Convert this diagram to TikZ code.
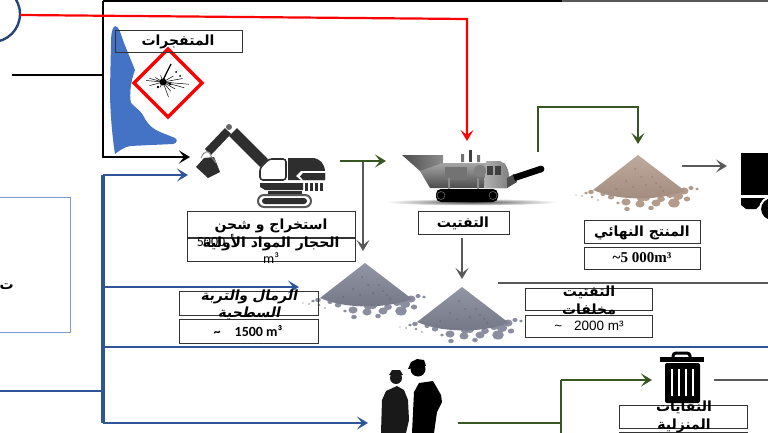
\documentclass[tikz,border=0pt]{standalone}
\usepackage{fontspec}
\usetikzlibrary{arrows.meta}
\TeXXeTstate=1
\newfontfamily\arabicfont[Script=Arabic]{DejaVu Sans}
\newfontfamily\arabicslant[Script=Arabic, FakeSlant=0.2]{DejaVu Sans Bold}
\newfontfamily\calibfont{Carlito}
\newfontfamily\timesfont{Liberation Serif}
\newfontfamily\arialfont{Liberation Sans}
\newcommand{\ar}[1]{\beginR #1\endR}
\definecolor{flowblue}{HTML}{2F5597}
\definecolor{flowgreen}{HTML}{375623}
\definecolor{flowgray}{HTML}{595959}
\definecolor{boxblue}{HTML}{7F9BCB}
\definecolor{oilblue}{HTML}{4472C4}
\definecolor{pilebrown}{HTML}{B39A8C}
\definecolor{rockbrown}{HTML}{B49C8D}
\definecolor{pilegray}{HTML}{7F8394}
\definecolor{rockgray}{HTML}{8B8E9E}
\definecolor{darkmach}{HTML}{2E2E2E}
\tikzset{
  box/.style={draw=black!80, line width=.9, inner sep=0},
  artext/.style={font=\arabicfont\bfseries\fontsize{14}{17.5}\selectfont, align=center, inner sep=0},
  numtext/.style={align=center, inner sep=0},
  tip/.style={-{Stealth[length=11, width=13, inset=5]}},
  redflow/.style={draw=red, line width=2.2, tip},
  blackflow/.style={draw=black, line width=2.2, tip},
  blueflow/.style={draw=flowblue, line width=2.2, tip},
  greenflow/.style={draw=flowgreen, line width=2.2, tip},
  grayflow/.style={draw=flowgray, line width=1.8, tip},
}
\begin{document}
\begin{tikzpicture}[x=1pt, y=-1pt]
  \useasboundingbox (0,0) rectangle (768,433);

  % connector ends
  \foreach \n/\x/\y in {redstart/20/15, redbend/467/19, redend/467/141,
      topleft/103/1, topmid/562/1, topright/768/1, blackfall/103/157, blackend/190/157,
      leftblack/12/75, midblack/103/75,
      bluetop/103/175, blueone/188/175, bluemid/103/287, bluetwo/299/287,
      bluewide/103/347, blueedge/768/347, blueleft/0/391, bluejoin/103/391,
      bluelow/103/423, bluethree/368/423,
      digout/340/161, digend/386/161, digdrop/363/161, digpile/363/251,
      crushup/538/152, crushleft/538/107, crushright/638/107, crushend/638/144,
      crushdown/462/238, crushpile/462/279, prodout/682/166, prodend/727/166,
      rule/498/283, ruleedge/768/283,
      staffout/458/423, staffjoin/561/423, stafflow/561/433, staffup/561/380, staffend/652/380,
      binout/714/380, binedge/768/380} {
    \coordinate (\n) at (\x,\y);
  }

  % left frame
  \draw[boxblue, line width=1] (-3,197) rectangle (70,332);
  \node[artext, anchor=west] (cutword) at (-.5,287) {\ar{ت}};
  \draw[flowblue!80!black, line width=2.4] (-8,14) circle (28);

  % explosives
  \fill[oilblue] (115,26) .. controls (119,26) and (121,35) .. (124,43) -- (135,70)
    .. controls (131,80) and (129,95) .. (131,103) .. controls (137,109) and (142,112) .. (144,117)
    .. controls (148,125) and (153,129) .. (160,132) -- (175,138) .. controls (178,140) and (177,143) .. (173,144)
    -- (130,146) .. controls (125,147) and (120,150) .. (115,154)
    .. controls (112,135) and (110,110) .. (110,90) -- (111,43) .. controls (111,35) and (112,27) .. (115,26) -- cycle;
  \draw[red, line width=3.2, fill=white, line join=miter] (168,49) -- (202,83) -- (168,117) -- (134,83) -- cycle;
  \fill[black] (163,82) circle (3.5);
  \foreach \a/\l in {5/26, 15/22, 30/14, 50/12, 70/16, 120/6, 165/14, 185/17, 195/14, 210/9, 250/7, 290/8, 330/12, 350/20} {
    \draw[black, line width=.5] (163,82) -- ++(\a:\l);
  }
  \draw[black, line width=1.2] (163,80) -- (171,64);
  \fill[black] (170,84) circle (1.5) (176,72) circle (1) (180,76) circle (1) (158,87) circle (1.3);

  % excavator
  \fill[darkmach] (196,167) -- (208,178) -- (220,172) -- (214,157) -- (204,158) -- cycle;
  \draw[darkmach, line width=8.5] (208,152) -- (228,131);
  \draw[darkmach, line width=11] (233,132) -- (264,163);
  \draw[black!45, line width=1] (201,158) .. controls (204,150) and (210,150) .. (211,156) -- (216,163);
  \fill[black!60] (229,127) circle (3);
  \fill[darkmach] (288,158) -- (312,158) .. controls (320,158) and (325,164) .. (325,172) -- (325,180) -- (288,180) -- cycle;
  \fill[white] (325,171) -- (301,171) -- (296,176) -- (301,180) -- (325,180) -- cycle;
  \fill[darkmach] (303,173) -- (325,173) -- (325,180) -- (303,180) -- (300,176.5) -- cycle;
  \draw[darkmach, line width=1.6, fill=white, rounded corners=3] (260,180) -- (260,168) -- (269,159) -- (286,159) -- (286,180) -- cycle;
  \fill[darkmach] (260,183) -- (303,183) -- (303,190) -- (265,190) -- (260,187) -- cycle;
  \foreach \x in {305,310,315,320} {
    \fill[darkmach] (\x,183) rectangle +(3,8);
  }
  \fill[darkmach] (268,191) rectangle (302,194);
  \draw[darkmach!80, line width=2, rounded corners=6] (258,195) rectangle (311,207);
  \fill[darkmach, rounded corners=3] (262,198) rectangle (307,204);

  % crusher
  \shade[inner color=black!70, outer color=white] (472,202) ellipse (86 and 3.5);
  \shade[left color=black!70, right color=black!45] (402,155) -- (443,155) -- (443,170) -- (420,171) -- cycle;
  \shade[top color=black!35, bottom color=black!70] (420,171) -- (443,163) -- (505,163) -- (509,175) -- (507,188) -- (430,188) -- cycle;
  \shade[left color=black!30, right color=black!50] (486,161) -- (500,161) .. controls (506,163) and (509,170) .. (509,178) -- (507,188) -- (484,188) -- cycle;
  \fill[black!55] (445,167) rectangle (467,180);
  \fill[black!50] (480,171) circle (6);
  \foreach \x in {487,495} {
    \fill[black!75] (\x,166) rectangle +(6,9);
  }
  \fill[black!55] (461,154) rectangle (464,162) (477,155) rectangle (480,162);
  \fill[black!75] (469,150) rectangle (472,162);
  \fill[black!45] (448,178) rectangle (450,193) (477,178) rectangle (479,193);
  \fill[black, rounded corners=5] (436,189) rectangle (498,202);
  \foreach \x in {441,493} {
    \draw[black!60, line width=.6] (\x,195.5) circle (4);
  }
  \fill[black!70] (507,178) -- (514,174) -- (517,182) -- (507,188) -- cycle;
  \draw[black, line width=6.5] (514,178) -- (541,169);
  \fill[black] (541,169) circle (3.4);

  % piles
  \foreach \cx/\cy/\cpile/\crock in {638/155/pilebrown/rockbrown, 365/263/pilegray/rockgray, 462/287/pilegray/rockgray} {
    \begin{scope}[shift={(\cx,\cy)}]
      \foreach \rx/\ry/\rs in {-62/40/.6, -56/41/.8, -52/38/1.5, -47/37/2.2, -46/42/1.2, -40/45/.8,
          -35/39/2, -27/42/2.5, -20/48/1.5, -12/47/3.5, -11/54/2.2, 2/49/3.5, 3/44/3, 13/53/2.2, 18/48/3.5,
          23/44/3, 36/48/4.5, 40/41/4, 46/36/3.5, 49/44/2.5, 53/33/2, 59/34/1.5, 32/40/3, 8/43/3} {
        \fill[\crock] (\rx,\ry) ellipse ({\rs*1.3} and \rs);
      }
      \shade[top color=\cpile!85!white, bottom color=\cpile!90!black] (0,0) -- (-45,35) .. controls (-20,46) and (20,46) .. (47,36) -- cycle;
      \foreach \sx/\sy in {-3/14, 3/22, -12/26, 8/30, 18/28, 22/32, 25/36, -22/34, 14/22, -5/32} {
        \fill[\cpile!70!black, opacity=.5] (\sx,\sy) circle (1);
      }
    \end{scope}
  }

  % truck
  \fill[black] (741,153) rectangle (768,195);
  \fill[black] (741,198) -- (768,198) -- (756,209) -- (746,209) -- (741,205) -- cycle;
  \draw[white, line width=2, fill=black] (772,209) circle (12);

  % bin
  \draw[black, line width=3, rounded corners=3] (673,358) -- (673,353) -- (690,353) -- (690,358);
  \fill[black] (660,357) rectangle (704,361.5);
  \fill[black, rounded corners=2] (665,363) rectangle (700,403);
  \foreach \x in {671,678,685,692} {
    \fill[white] (\x,369) rectangle +(2,27);
  }

  % staff
  \fill[black!90] (381,433) -- (382,400) -- (386,391) -- (397,386) -- (404,390) -- (408,400) -- (409,420) -- (406,433) -- cycle;
  \fill[black!90] (396,378) circle (6);
  \fill[black!90] (389,375) -- (403,375) -- (400,370) -- (392,370) -- cycle;
  \fill[black] (412,433) -- (414,392) -- (419,383) -- (433,381) -- (441,395) -- (442,402) -- (437,412) -- (434,433) -- cycle;
  \fill[black] (418,369) circle (7.5);
  \fill[black] (408,369) -- (426,366) -- (424,360) -- (417,359) -- (411,362) -- cycle;

  % connectors
  \draw[black, line width=2] (topleft) -- (topmid);
  \draw[flowgray, line width=1.6] (topmid) -- (topright);
  \draw[black, line width=2] (leftblack) -- (midblack);
  \draw[blackflow] (topleft) -- (blackfall) -- (blackend);
  \draw[redflow] (redstart) -- (redbend) -- (redend);
  \draw[draw=flowblue, line width=3.2] (bluetop) -- (bluelow);
  \draw[draw=flowblue, line width=2.6] (blueleft) -- (bluejoin);
  \draw[draw=flowblue, line width=2.2] (bluewide) -- (blueedge);
  \draw[blueflow] (bluetop) -- (blueone);
  \draw[blueflow] (bluemid) -- (bluetwo);
  \draw[blueflow] (bluelow) -- (bluethree);
  \draw[grayflow] (digdrop) -- (digpile);
  \draw[greenflow] (digout) -- (digend);
  \draw[greenflow] (crushup) -- (crushleft) -- (crushright) -- (crushend);
  \draw[grayflow] (crushdown) -- (crushpile);
  \draw[grayflow] (prodout) -- (prodend);
  \draw[flowgray, line width=1.6] (rule) -- (ruleedge);
  \draw[flowgreen, line width=2.2] (staffout) -- (staffjoin);
  \draw[flowgreen, line width=2.4] (stafflow) -- (staffup);
  \draw[greenflow, line width=1.8] (staffup) -- (staffend);
  \draw[flowgray, line width=1.6] (binout) -- (binedge);

  % boxes
  \foreach \n/\x/\y/\w/\h in {explbox/178.5/41/127/22, digbox/271/224/168/26, digvalbox/271/249.5/168/23,
      sandbox/248.5/303/139/24, sandvalbox/248.5/331/139/24, crushbox/463.5/222.5/91/23,
      prodbox/642/231.5/116/23, prodvalbox/642/258/116/22, wastebox/589/299/127/22,
      wastevalbox/589/326/127/22, homebox/683/416.5/128/23} {
    \node[box, minimum width=\w, minimum height=\h] (\n) at (\x,\y) {};
  }
  \node[box, minimum width=128, minimum height=8, anchor=north] (homevalbox) at (683,432) {};

  % texts
  \node[artext] (expltext) at (178,42) {\ar{المتفجرات}};
  \node[numtext, font=\calibfont\fontsize{14}{16}\selectfont] (digvaltext) at (211,242) {5000};
  \node[numtext, font=\calibfont\fontsize{14}{16}\selectfont] (digunit) at (271,258) {m³};
  \node[artext] (digtext) at (271,235) {\ar{استخراج و شحن}\\\ar{الحجار المواد الأولية}};
  \node[artext, font=\arabicslant\fontsize{14}{17.5}\selectfont] (sandtext) at (249,305) {\ar{الرمال والتربة}\\\ar{السطحية}};
  \node[numtext, font=\calibfont\bfseries\fontsize{14}{16}\selectfont] (sandval) at (248,331) {\char`~\hspace{14pt}1500 m³};
  \node[artext] (crushtext) at (463,223.5) {\ar{التفتيت}};
  \node[artext] (prodtext) at (642,232.5) {\ar{المنتج النهائي}};
  \node[numtext, font=\timesfont\bfseries\fontsize{15}{17}\selectfont] (prodval) at (642,258) {\char`~ 5 000m³};
  \node[artext] (wastetext) at (589,300.5) {\ar{التفتيت}\\\ar{مخلفات}};
  \node[numtext, font=\arialfont\fontsize{13.5}{16}\selectfont] (wasteval) at (589,326) {\char`~\hspace{12pt}2000 m³};
  \node[artext] (hometext) at (684,417) {\ar{النفايات}\\\ar{المنزلية}};
\end{tikzpicture}
\end{document}
